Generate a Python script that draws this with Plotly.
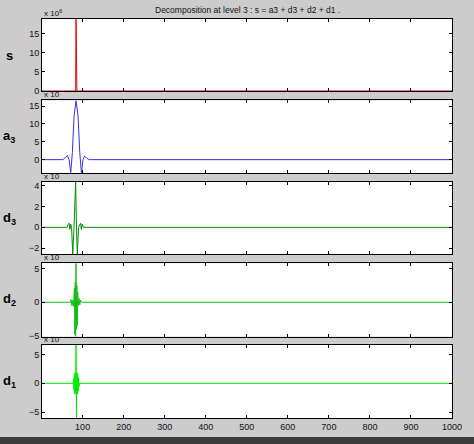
import plotly.graph_objects as go
from plotly.subplots import make_subplots

# signal and its level-3 decomposition (values in units of 1e6)
x_s = [1, 83, 84, 85, 86, 1000]
s_vals = [0, 0, 18.9, 9.0, 0, 0]

x_a3 = [1, 52, 58, 63, 67, 71, 75, 79, 84, 89, 93, 97, 101, 105, 110, 116, 1000]
a3_vals = [0, 0, 0.6, 1.1, 0, -3.7, 2, 12, 16.6, 12, 2, -3.7, 0, 1.0, 0.4, 0, 0]

x_d3 = [1, 62, 65, 67, 69, 71, 73, 76, 79, 81, 83, 85, 87, 90, 93, 95, 97, 99, 102, 1000]
d3_vals = [0, 0, 0.3, 0.4, -0.2, 0.3, 0, -2.6, 0, 3, 4.4, 0, -2.6, 0, 0.3, 0.4, -0.2, 0.3, 0, 0]

x_d2 = [1, 70, 72, 74, 76, 78, 80, 81, 82, 83, 84, 85, 86, 87, 88, 89, 91, 93, 95, 98, 1000]
d2_vals = [0, 0, 0.4, -0.5, 0.3, -0.6, 2.1, -4.8, 3.0, -5.1, 5.8, -4.0, 2.5, -3.5, 1.5, -0.5, 0.6, -0.4, 0.3, 0, 0]

x_d1 = [1, 77, 78, 79, 80, 81, 82, 83, 84, 85, 86, 87, 88, 89, 90, 91, 92, 1000]
d1_vals = [0, 0, 0.8, -1.2, 1.6, -1.9, 1.9, -1.6, 6.7, -6.0, 1.8, -1.9, 1.7, -1.4, 1.0, -0.6, 0, 0]

names = ['s', 'a<sub>3</sub>', 'd<sub>3</sub>', 'd<sub>2</sub>', 'd<sub>1</sub>']
colors = ['rgb(230,0,0)', 'rgb(50,50,230)', 'rgb(0,140,0)', 'rgb(20,190,20)', 'rgb(0,235,0)']
y_ranges = [[-0.12, 18.9], [-3.7, 16.6], [-2.6, 4.4], [-5.1, 5.8], [-6.0, 6.7]]
y_ticks = [[0, 5, 10, 15], [0, 5, 10, 15], [-2, 0, 2, 4], [-5, 0, 5], [-5, 0, 5]]
x_ticks = [100, 200, 300, 400, 500, 600, 700, 800, 900, 1000]

series = [(x_s, s_vals), (x_a3, a3_vals), (x_d3, d3_vals), (x_d2, d2_vals), (x_d1, d1_vals)]

# domaines verticaux des 5 panneaux (coordonnees papier)
domains = [[0.8184, 1.0], [0.6144, 0.796], [0.4104, 0.592], [0.204, 0.388], [0.0, 0.184]]

fig = make_subplots(rows=5, cols=1, shared_xaxes=True, vertical_spacing=0.02)

for i, (xs, ys) in enumerate(series):
    fig.add_trace(go.Scatter(
        x=xs, y=ys, mode='lines',
        line=dict(color=colors[i], width=1),
        showlegend=False, hoverinfo='skip'
    ), row=i + 1, col=1)

    fig.update_yaxes(
        range=y_ranges[i], tickvals=y_ticks[i], domain=domains[i],
        ticks='inside', ticklen=3, tickcolor='black',
        showline=True, linecolor='black', linewidth=1, mirror='ticks',
        showgrid=False, zeroline=False,
        tickfont=dict(size=9, color='#111', family='Liberation Sans, Arial'),
        row=i + 1, col=1
    )
    fig.update_xaxes(
        range=[1, 1000], tickvals=x_ticks,
        ticks='inside', ticklen=3, tickcolor='black',
        showline=True, linecolor='black', linewidth=1, mirror='ticks',
        showgrid=False, zeroline=False,
        showticklabels=(i == 4),
        tickfont=dict(size=9, color='#111', family='Liberation Sans, Arial'),
        row=i + 1, col=1
    )

    yref = 'y domain' if i == 0 else f'y{i + 1} domain'
    # etiquette du panneau
    fig.add_annotation(
        text=f'<b>{names[i]}</b>', xref='paper', yref=yref,
        x=-0.08, y=0.5, xanchor='center', yanchor='middle', showarrow=False,
        font=dict(size=13, color='black', family='Liberation Sans, Arial')
    )
    # multiplicateur
    fig.add_annotation(
        text='x 10<sup>6</sup>' if i == 0 else 'x 10', xref='paper', yref=yref,
        x=0.0, y=1.0, xanchor='left', yanchor='bottom', yshift=-1, showarrow=False,
        font=dict(size=8, color='#111', family='Liberation Sans, Arial')
    )

fig.add_annotation(
    text='Decomposition at level 3 : s = a3 + d3 + d2 + d1 .',
    xref='paper', yref='paper', x=0.5, y=1.0, yshift=2,
    xanchor='center', yanchor='bottom', showarrow=False,
    font=dict(size=8.5, color='#111', family='Liberation Sans, Arial')
)

# bord sombre en bas de la fenetre
fig.add_shape(type='rect', xref='paper', yref='paper',
              x0=-0.2, x1=1.1, y0=-0.07, y1=-0.0475,
              fillcolor='#3c3c3c', line=dict(width=0), layer='below')

fig.update_layout(
    width=474, height=444,
    margin=dict(l=42, r=16, t=19, b=23),
    paper_bgcolor='#cccccc',
    plot_bgcolor='white',
    showlegend=False
)

fig.write_html(
    "out.html",
    config={'displayModeBar': False},
    post_script="document.body.style.margin='0';document.body.style.background='#cccccc';"
)
